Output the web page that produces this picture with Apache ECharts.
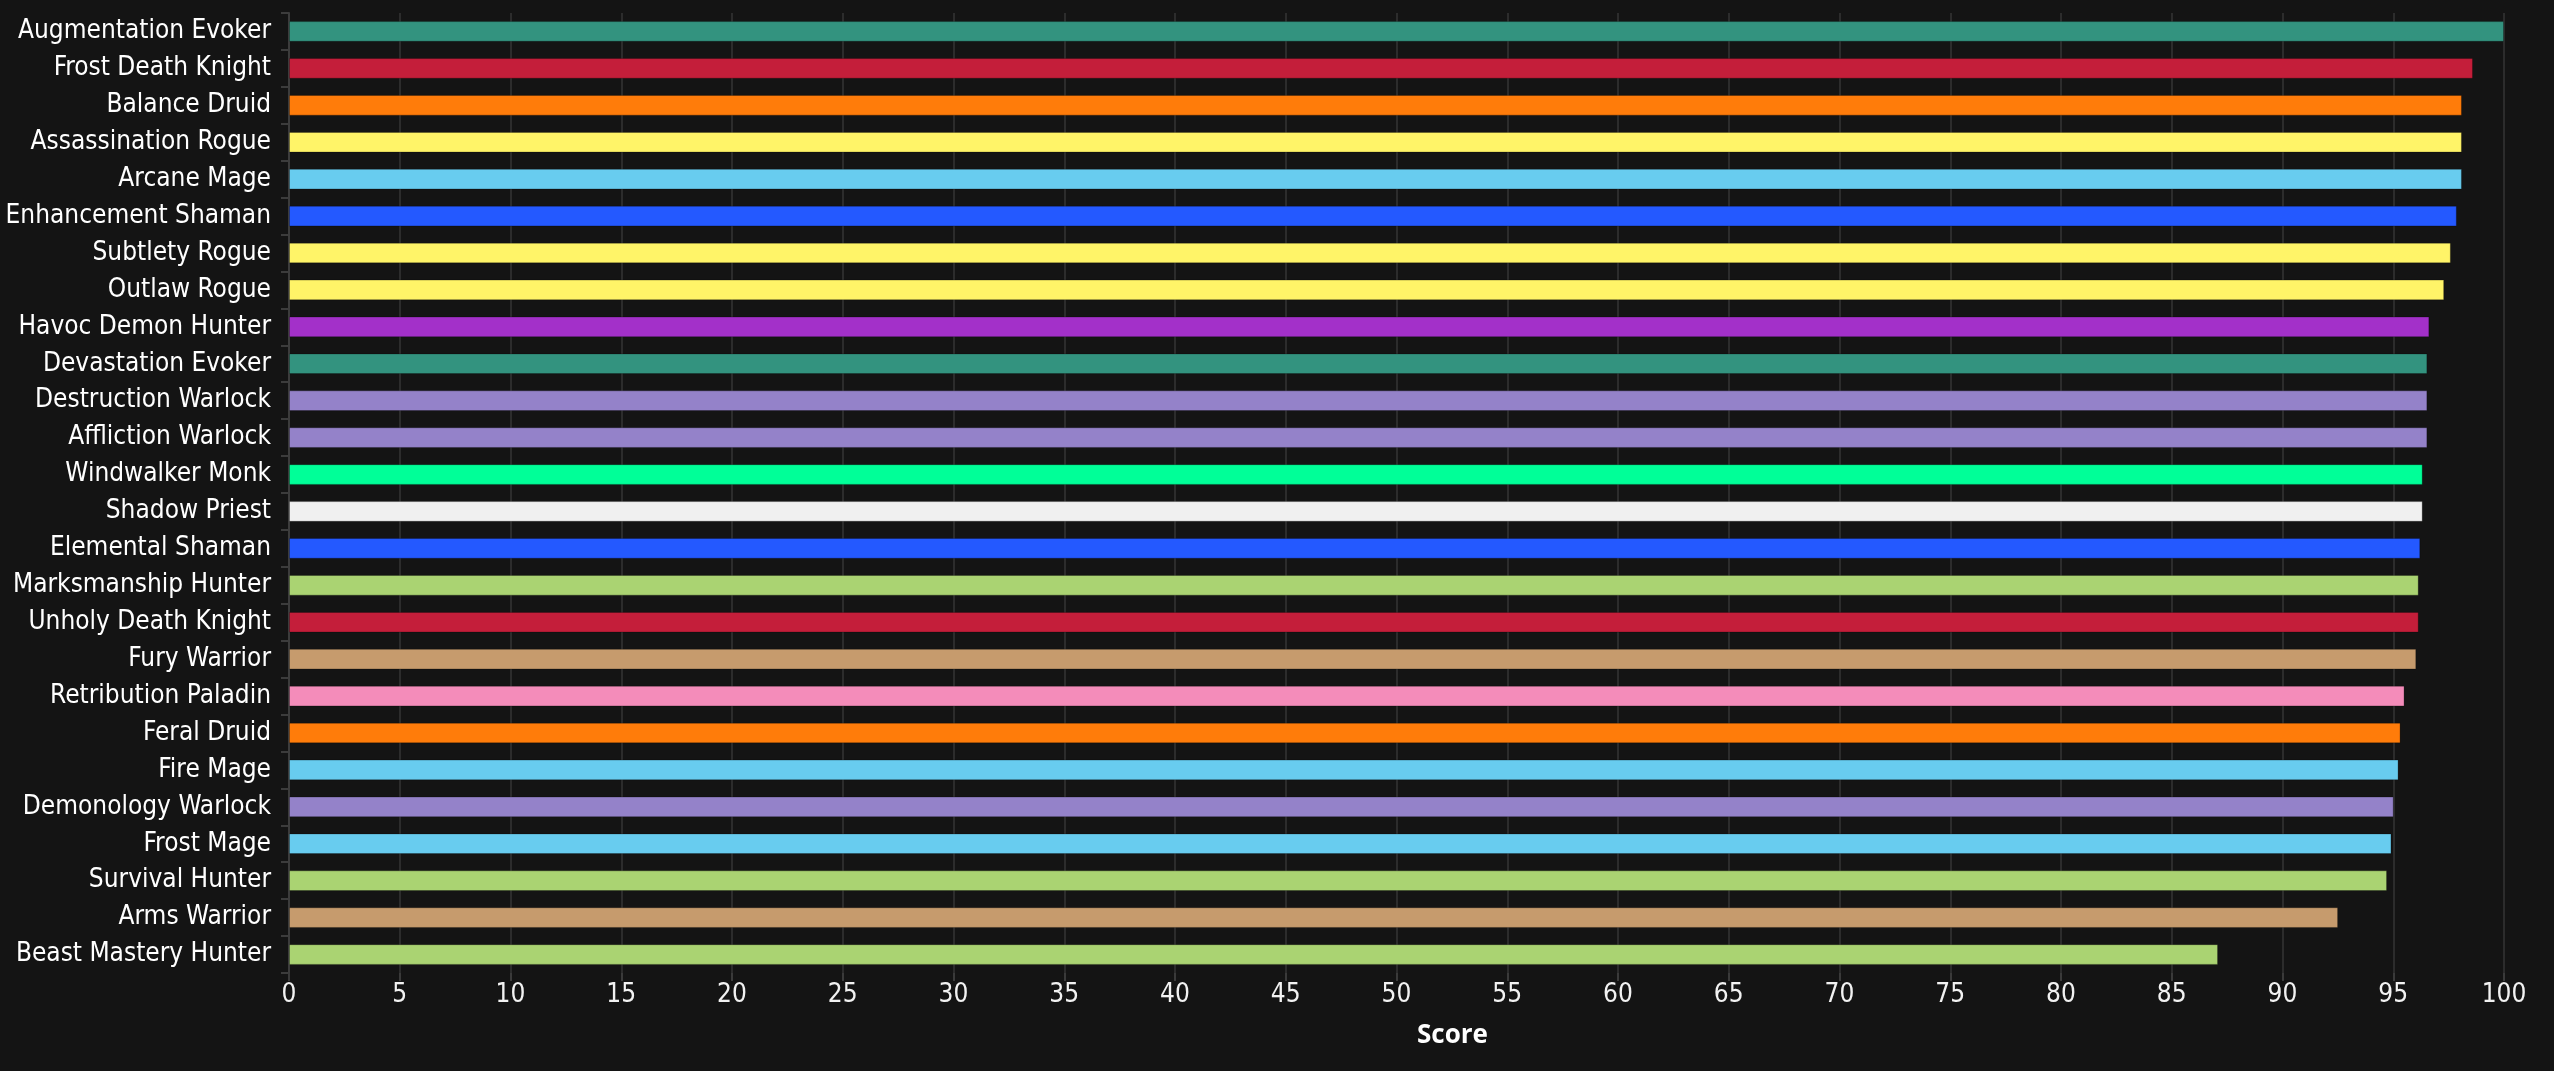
<!DOCTYPE html>
<html>
<head>
<meta charset="utf-8">
<script src="https://cdn.jsdelivr.net/npm/echarts@6/dist/echarts.min.js"></script>
<style>
html,body{margin:0;padding:0;background:#141414;}
#chart{width:2554px;height:1071px;}
</style>
</head>
<body>
<div id="chart"></div>
<script>
const specs = ["Augmentation Evoker","Frost Death Knight","Balance Druid","Assassination Rogue","Arcane Mage","Enhancement Shaman","Subtlety Rogue","Outlaw Rogue","Havoc Demon Hunter","Devastation Evoker","Destruction Warlock","Affliction Warlock","Windwalker Monk","Shadow Priest","Elemental Shaman","Marksmanship Hunter","Unholy Death Knight","Fury Warrior","Retribution Paladin","Feral Druid","Fire Mage","Demonology Warlock","Frost Mage","Survival Hunter","Arms Warrior","Beast Mastery Hunter"];
const scores = [100,98.6,98.1,98.1,98.1,97.87,97.6,97.3,96.63,96.54,96.54,96.54,96.33,96.33,96.22,96.15,96.15,96.04,95.51,95.33,95.24,95.02,94.92,94.72,92.51,87.09];
const barColors = ["#33937F","#C41E3A","#FF7C0A","#FFF468","#68CCEF","#2459FF","#FFF468","#FFF468","#A330C9","#33937F","#9482C9","#9482C9","#00FF98","#F0F0F0","#2459FF","#AAD372","#C41E3A","#C69B6D","#F48CBA","#FF7C0A","#68CCEF","#9482C9","#68CCEF","#AAD372","#C69B6D","#AAD372"];
const xTicks = {min:0, max:100, interval:5};

const chart = echarts.init(document.getElementById('chart'));
chart.setOption({
  backgroundColor:'#141414',
  animation:false,
  textStyle:{fontFamily:'"Liberation Sans Narrow","DejaVu Sans Condensed",sans-serif'},
  grid:{left:289,right:50,top:13,bottom:98,containLabel:false},
  xAxis:{
    type:'value', min:xTicks.min, max:xTicks.max, interval:xTicks.interval,
    name:'Score', nameLocation:'middle', nameGap:50,
    nameTextStyle:{color:'#ffffff',fontSize:26,fontWeight:'bold',fontFamily:'"Open Sans",sans-serif',padding:[0,0,0,112]},
    axisLine:{show:false},
    axisTick:{show:true,length:8,lineStyle:{color:'#3a3a3a',width:2}},
    axisLabel:{color:'#f2f2f2',fontSize:26,margin:9},
    splitLine:{show:true,lineStyle:{color:'#2c2c2c',width:2}}
  },
  yAxis:{
    type:'category', data:specs, inverse:true,
    axisLine:{show:true,lineStyle:{color:'#3c3c3c',width:2}},
    axisTick:{show:true,length:8,lineStyle:{color:'#3c3c3c',width:2}},
    axisLabel:{color:'#ffffff',fontSize:26,margin:18},
    splitLine:{show:false}
  },
  series:[{
    type:'bar',
    data:scores.map((v,i)=>({value:v,itemStyle:{color:barColors[i]}})),
    barCategoryGap:'44%',
    itemStyle:{borderColor:'rgba(0,0,0,0.25)',borderWidth:1}
  }]
});
</script>
</body>
</html>
